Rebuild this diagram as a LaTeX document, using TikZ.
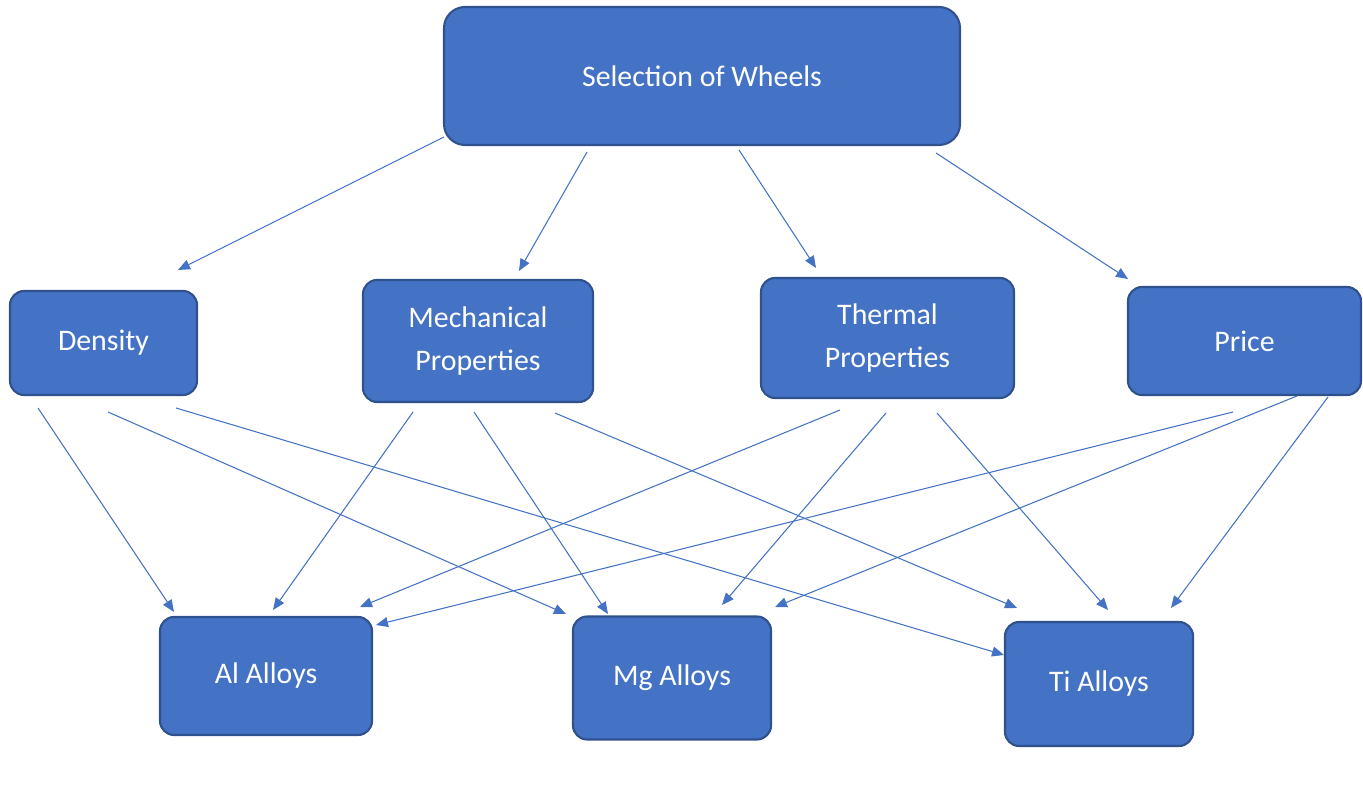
\documentclass[tikz,border=0pt]{standalone}
\usepackage{fontspec}
\setmainfont{Carlito}
\usetikzlibrary{arrows.meta, positioning, calc}
\definecolor{boxBlue}{RGB}{68, 114, 196}
\definecolor{boxEdge}{RGB}{47, 82, 143}

% arrow from a point near one node to a point near another (offsets in px)
\newcommand{\link}[6]{\draw[flow] ([shift={(#2,#3)}]#1.center) -- ([shift={(#5,#6)}]#4.center);}

\begin{document}
\begin{tikzpicture}[
    x=0.02cm, y=-0.02cm,
    box/.style 2 args={
        rectangle,
        draw=boxEdge,
        line width=1.2pt,
        fill=boxBlue,
        text=white,
        align=center,
        minimum width=#1*0.02cm,
        minimum height=#2*0.02cm,
        font=\fontsize{17}{24}\selectfont,
        rounded corners=8pt
    },
    flow/.style={
        draw=boxBlue,
        line width=0.6pt,
        -{Triangle[length=0.24cm, width=0.2cm]}
    }
]
    \useasboundingbox (0,0) rectangle (1363,786);

    % Goal
    \node[box={516}{138}, rounded corners=12pt] (wheels) at (702,76) {Selection of Wheels};

    % Criteria
    \node[box={187}{104}] (dens) at (103.5,343) {Density};
    \node[box={230}{122}] (mech) at (478,341) {Mechanical\\Properties};
    \node[box={253}{120}] (therm) at (887.5,338) {Thermal\\Properties};
    \node[box={233}{108}] (price) at (1244.5,341) {Price};

    % Alternatives
    \node[box={212}{118}] (al) at (266,676) {Al Alloys};
    \node[box={198}{123}] (mg) at (672,678) {Mg Alloys};
    \node[box={188}{124}] (ti) at (1099,684) {Ti Alloys};

    % Goal to criteria
    \link{wheels}{-258}{61}{dens}{74.5}{-73}
    \link{wheels}{-115}{76}{mech}{41}{-70}
    \link{wheels}{37}{74}{therm}{-71.5}{-70}
    \link{wheels}{234}{77}{price}{-116.5}{-62}

    % Criteria to alternatives
    \link{dens}{-65.5}{65}{al}{-92}{-64}
    \link{dens}{4.5}{69}{mg}{-106}{-64}
    \link{dens}{72.5}{65}{ti}{-95}{-29}
    \link{mech}{-65}{71}{al}{7}{-66}
    \link{mech}{-4}{71}{mg}{-64}{-64}
    \link{mech}{77}{72}{ti}{-82}{-76}
    \link{therm}{-47.5}{72}{al}{94}{-69}
    \link{therm}{-1.5}{75}{mg}{50}{-73}
    \link{therm}{49.5}{75}{ti}{9}{-74}
    \link{price}{-11.5}{71}{al}{110}{-51}
    \link{price}{52.5}{55}{mg}{103}{-71}
    \link{price}{83.5}{56}{ti}{72}{-76}

\end{tikzpicture}
\end{document}
